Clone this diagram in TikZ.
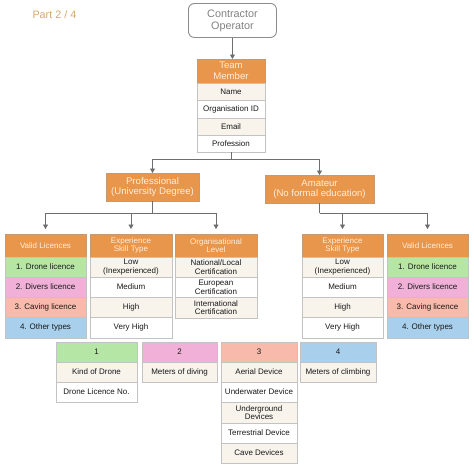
\documentclass[tikz,border=0pt]{standalone}
\usepackage{fontspec}
\setmainfont{Liberation Sans}
\usetikzlibrary{arrows.meta}
\definecolor{hdr}{RGB}{232,150,75}
\definecolor{hdrtext}{RGB}{255,238,222}
\definecolor{cream}{RGB}{248,244,236}
\definecolor{cellline}{RGB}{195,195,195}
\definecolor{celltext}{RGB}{25,25,25}
\definecolor{connc}{RGB}{110,110,110}
\definecolor{lgreen}{RGB}{182,230,165}
\definecolor{lpink}{RGB}{240,176,216}
\definecolor{lsalmon}{RGB}{248,186,170}
\definecolor{lblue}{RGB}{168,208,236}
\definecolor{parttext}{RGB}{214,168,112}
\definecolor{boxline}{RGB}{140,140,140}
\definecolor{boxtext}{RGB}{130,130,130}
\newcommand\cellfnt{\fontsize{8}{8.6}\selectfont}
\newcommand\bigfnt{\fontsize{9.6}{10.6}\selectfont}
\newcommand\tcell[7][]{%
  \node[cell,#1,minimum width={(#5-#3)*1pt},minimum height={(#6-#4)*1pt}] (#2) at (#3,#4) {#7};}
\tikzset{
  cell/.style={draw=cellline, line width=0.5pt, inner sep=0pt, outer sep=0pt,
    anchor=north west, align=center, font=\cellfnt, text=celltext, fill=white},
  hdrcell/.style={fill=hdr, draw=hdr!85!black!60!cellline, text=hdrtext},
  cr/.style={fill=cream},
  conn/.style={draw=connc, line width=0.9pt},
  arr/.style={conn, -{Triangle[length=4.5pt,width=5pt]}},
}
\begin{document}
\begin{tikzpicture}[x=1pt,y=-1pt]
\useasboundingbox[fill=white] (0,0) rectangle (474,467);
\node[anchor=west, font=\fontsize{10.8}{12}\selectfont, text=parttext] (part) at (29,15) {Part 2 / 4};

% Contractor
\node[draw=boxline, line width=0.9pt, rounded corners=6pt, fill=white, text=boxtext,
  font=\fontsize{10.8}{12.2}\selectfont, align=center, anchor=north west,
  minimum width=88pt, minimum height=34pt, inner sep=0pt] (contr) at (188,3) {Contractor\\Operator};

% Team member
\tcell[hdrcell,font=\bigfnt]{tmh}{197}{59}{265}{83}{Team\\Member}
\tcell[cr]{tm1}{197}{83}{265}{100}{Name}
\tcell{tm2}{197}{100}{265}{118}{Organisation ID}
\tcell[cr]{tm3}{197}{118}{265}{135}{Email}
\tcell{tm4}{197}{135}{265}{152}{Profession}

% Professional / Amateur
\tcell[hdrcell,font=\bigfnt]{prof}{106}{173}{199}{201}{Professional\\(University Degree)}
\tcell[hdrcell,font=\bigfnt]{amat}{265}{175}{374}{203}{Amateur\\(No formal education)}

% Left valid licences
\tcell[hdrcell]{lvh}{5}{234}{86}{257}{Valid Licences}
\tcell[fill=lgreen]{lv1}{5}{257}{86}{277}{1. Drone licence}
\tcell[fill=lpink]{lv2}{5}{277}{86}{297}{2. Divers licence}
\tcell[fill=lsalmon]{lv3}{5}{297}{86}{317}{3. Caving licence}
\tcell[fill=lblue]{lv4}{5}{317}{86}{338}{4. Other types}

% Left experience
\tcell[hdrcell]{lxh}{90}{234}{172}{257}{Experience\\Skill Type}
\tcell[cr]{lx1}{90}{257}{172}{277}{Low\\(Inexperienced)}
\tcell{lx2}{90}{277}{172}{297}{Medium}
\tcell[cr]{lx3}{90}{297}{172}{317}{High}
\tcell{lx4}{90}{317}{172}{338}{Very High}

% Organisational level
\tcell[hdrcell]{ogh}{175}{234}{257}{257}{Organisational\\Level}
\tcell[cr]{og1}{175}{257}{257}{277}{National/Local\\Certification}
\tcell{og2}{175}{277}{257}{297}{European\\Certification}
\tcell[cr]{og3}{175}{297}{257}{318}{International\\Certification}

% Right experience
\tcell[hdrcell]{rxh}{302}{234}{383}{257}{Experience\\Skill Type}
\tcell[cr]{rx1}{302}{257}{383}{277}{Low\\(Inexperienced)}
\tcell{rx2}{302}{277}{383}{297}{Medium}
\tcell[cr]{rx3}{302}{297}{383}{317}{High}
\tcell{rx4}{302}{317}{383}{338}{Very High}

% Right valid licences
\tcell[hdrcell]{rvh}{387}{234}{468}{257}{Valid Licences}
\tcell[fill=lgreen]{rv1}{387}{257}{468}{277}{1. Drone licence}
\tcell[fill=lpink]{rv2}{387}{277}{468}{297}{2. Divers licence}
\tcell[fill=lsalmon]{rv3}{387}{297}{468}{317}{3. Caving licence}
\tcell[fill=lblue]{rv4}{387}{317}{468}{338}{4. Other types}

% Bottom tables
\tcell[fill=lgreen]{b1h}{56}{342}{137}{362}{1}
\tcell[cr]{b11}{56}{362}{137}{382}{Kind of Drone}
\tcell{b12}{56}{382}{137}{402}{Drone Licence No.}

\tcell[fill=lpink]{b2h}{142}{342}{217}{362}{2}
\tcell[cr]{b21}{142}{362}{217}{382}{Meters of diving}

\tcell[fill=lsalmon]{b3h}{221}{342}{297}{362}{3}
\tcell[cr]{b31}{221}{362}{297}{382}{Aerial Device}
\tcell{b32}{221}{382}{297}{402}{Underwater Device}
\tcell[cr]{b33}{221}{402}{297}{423}{Underground\\Devices}
\tcell{b34}{221}{423}{297}{443}{Terrestrial Device}
\tcell[cr]{b35}{221}{443}{297}{463}{Cave Devices}

\tcell[fill=lblue]{b4h}{300}{342}{376}{362}{4}
\tcell[cr]{b41}{300}{362}{376}{382}{Meters of climbing}

% Connectors
\draw[arr] (contr.south) -- (contr.south |- tmh.north);
\draw[conn] (tm4.south) -- (tm4.south |- 0,159);
\draw[arr] (tm4.south |- 0,159) -| (prof.north);
\draw[arr] (tm4.south |- 0,159) -| (amat.north);

\draw[conn] (prof.south) -- (prof.south |- 0,213);
\draw[arr, shorten >=5pt] (prof.south |- 0,213) -| (lvh.north);
\draw[arr, shorten >=5pt] (prof.south |- 0,213) -| (lxh.north);
\draw[arr, shorten >=5pt] (prof.south |- 0,213) -| (ogh.north);

\draw[conn] (amat.south) -- (amat.south |- 0,213);
\draw[arr, shorten >=5pt] (amat.south |- 0,213) -| (rxh.north);
\draw[arr, shorten >=5pt] (amat.south |- 0,213) -| (rvh.north);
\end{tikzpicture}
\end{document}
